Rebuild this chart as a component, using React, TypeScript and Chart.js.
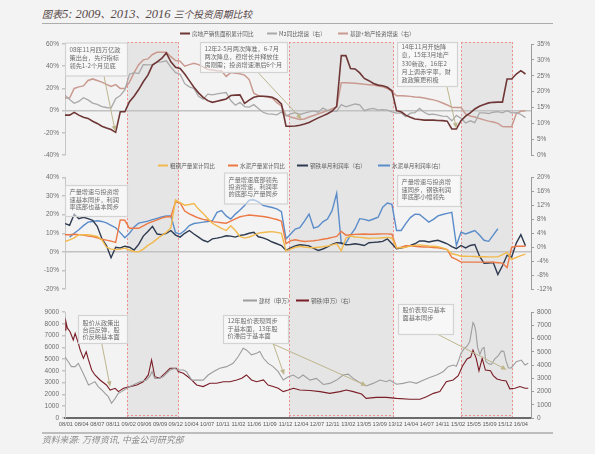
import { useEffect, useRef } from "react";
import { Chart, registerables } from "chart.js";

Chart.register(...registerables);

// Monthly series: index 0 = 2008-01 ... index 100 = 2016-05
const salesAreaYoY = [
  -4, -4, -1.5, -4, -6, -7, -9.5, -11.5, -14, -15.5, -17, -19.5,
  -1, -1, 8, 13, 19, 26, 32, 41, 44, 47, 52, 44,
  39, 38, 33, 27, 21, 16, 12, 9, 7.5, 8.5, 9.5, 10.5,
  13.6, 14, 14.2, 6.5, 9.5, 12, 13, 13, 12.8, 12, 10, 6,
  -14, -14, -13.8, -13.2, -12, -10.6, -8.5, -6.5, -4.7, -2.8, -0.5, 4,
  49.5, 49.5, 38, 37.5, 34, 29, 27, 24.5, 23, 22.5, 21, 18,
  0, -1, -4, -6, -7.5, -8, -8.5, -8.5, -8.5, -8.8, -9, -9.5,
  -16.5, -16.5, -9, -5, -2, 1.5, 4, 5.5, 7, 7.5, 7.7, 7.7,
  28.5, 28.5, 33, 36, 33,
];

const m2YoY = [
  18.9, 17.5, 16.3, 16.9, 18.1, 17.4, 16.4, 16.0, 15.3, 15.0, 14.8, 17.8,
  18.8, 20.5, 25.5, 26.0, 25.7, 28.5, 28.4, 28.5, 29.3, 29.4, 29.7, 27.7,
  26.0, 25.5, 22.5, 21.5, 21.0, 18.5, 17.6, 19.2, 19.0, 19.3, 19.5, 19.7,
  17.2, 15.7, 16.6, 15.3, 15.1, 15.9, 14.7, 13.5, 13.0, 12.9, 12.7, 13.6,
  12.4, 13.0, 13.4, 12.8, 13.2, 13.6, 13.9, 13.5, 14.8, 14.1, 13.9, 13.8,
  15.9, 15.2, 15.7, 16.1, 15.8, 14.0, 14.5, 14.7, 14.2, 14.3, 14.2, 13.6,
  13.2, 13.3, 12.1, 13.2, 13.4, 14.7, 13.5, 12.8, 12.9, 12.6, 12.3, 12.2,
  10.8, 12.5, 11.6, 10.1, 10.8, 10.2, 13.3, 13.3, 13.1, 13.5, 13.7, 13.3,
  14.0, 13.3, 13.4, 12.8, 11.8,
];

const infraPropertyFaiYoY = [
  18, 18, 21, 21.5, 21.8, 23.5, 24, 23.5, 23, 22.3, 21.6, 22.2,
  21, 21, 23, 26, 28.5, 30, 30.3, 31.7, 32.4, 32.4, 32.4, 31,
  29.8, 29.6, 28, 28.5, 28.9, 28.5, 27.8, 27, 26.8, 26.6, 26.5, 24.8,
  26, 25.8, 25.6, 25.2, 23.8, 19.5, 18.7, 18.5, 18.3, 18, 16.5, 15.5,
  12.5, 12, 11.6, 11.2, 11.4, 12, 12.5, 13, 13.5, 14, 14.6, 15.1,
  22.8, 22.8, 22.7, 22.6, 22.5, 22.3, 22.2, 22.1, 21.8, 21.5, 21, 20,
  18.7, 18.7, 18.6, 18.5, 18.3, 18.2, 18, 17.7, 17.4, 17, 16.4, 15.8,
  15.1, 15, 15, 13, 12.3, 12, 11.5, 11.1, 10.7, 10.4, 10, 9,
  8.9, 8.9, 13, 13.8, 14,
];

const crudeSteelOutputYoY = [
  5.6, 6.5, 7.5, 9.2, 9.2, 9.2, 8.8, 8.3, 6.5, 2.5, 1.5, 1.2,
  1.5, 2, 1, 0.2, 0, 1.5, 3.5, 5, 7, 8.8, 10.5, 13,
  28, 26.5, 25.1, 25.5, 26, 23, 20.7, 18, 15.4, 14, 12.7, 11.5,
  14, 11.5, 8.3, 7.4, 8, 9, 10.1, 10.4, 10.7, 10.9, 10.5, 10,
  0.5, 1.5, 2.5, 3, 2.6, 2.3, 2.2, 2.5, 2.8, 3.2, 3.8, 4.4,
  0.5, 7.5, 8.5, 8, 7.8, 7.6, 7.2, 7.4, 7.4, 7.6, 7.8, 7.5,
  2.2, 2.2, 2.5, 3.2, 3.5, 3.8, 3.5, 3.2, 3, 2.8, 2.2, 1.2,
  -1, -1.5, -2.3, -2.3, -2.4, -2.5, -2.6, -2.6, -2.7, -2.7, -2.7, -1.5,
  -0.3, -4.2, -3, -2, -1.2,
];

const cementOutputYoY = [
  9.2, 9.2, 9.5, 9.3, 9, 8.5, 8.3, 7.5, 6.8, 6.3, 5.8, 5.1,
  17.2, 17, 12.7, 12.7, 12.7, 14, 15.3, 16.3, 17.2, 18.2, 18.9, 18.9,
  26.9, 26.3, 22, 20.5, 19.3, 18.2, 17.5, 17, 16.3, 16, 15.7, 15.4,
  16.5, 17.8, 18.9, 19.4, 19.8, 19.6, 19.3, 19, 18.6, 18, 17.4, 16.5,
  4.4, 6, 6.5, 6, 5.6, 5.8, 6, 6.3, 6.8, 7.2, 7.8, 8.3,
  11, 9, 9.2, 9.4, 9.5, 9.6, 9.5, 9.5, 9.6, 9.7, 9.7, 9.5,
  2.1, 2.5, 3.3, 3.3, 3, 2.8, 2.6, 2.6, 2.4, 2.2, 1.8, 1.2,
  -3, -4, -5.5, -5.5, -5.5, -5.5, -5.5, -5.5, -5.5, -5.6, -5.8, -6,
  -8.5, 2.5, 3, 3, 3,
];

const steelMonthlyMargin = [
  6.8, 6.3, 9.5, 8.2, 8.6, 8.2, 7.7, 6, 2.5, 0.5, -3, 0,
  -0.2, 0.3, 0, -0.8, 0.8, 3.2, 4.5, 6, 3.8, 3.6, 4, 4.8,
  3.5, 2.9, 4, 4.8, 3.8, 2.9, 2, 1.5, 2.4, 2.6, 2.9, 3.3,
  3.2, 2.9, 3.4, 3.6, 4, 4.3, 3, 2.7, 2.2, 1.5, 1, 0.5,
  -0.9, -0.2, 0.4, 0.7, 0.6, 0.4, -0.3, -0.9, -0.5, 0.1, 0.8, 1.3,
  1.2, 0.7, 0.8, 1, 0.8, 0.5, 1.3, 1.4, 1.5, 1.7, 2.4, 1,
  -0.4, -0.2, 0.1, 0.5, 1, 1.8, 1.8, 1.5, 1.8, 2, 1.5, 1,
  0.2, -0.4, 0.5, -0.2, 0.5, 0.8, -2.5, -4.6, -4.5, -4.4, -7.8, -5.3,
  -2.3, -2.8, 1.2, 3.6, 0.4,
];

const cementMonthlyMargin = [
  null, 2.9, 4, 5, 6.2, 7.2, 7.4, 7.6, 7.4, 7, 6.3, 5.6,
  4.2, 2.7, 4, 5.8, 6.9, 7.2, 7.5, 7.9, 8.3, 8.7, 9, 9,
  4.2, 3.8, 4.8, 6.2, 6.8, 7, 7.2, 7.4, 7.6, 10, 10.5, 9,
  8.1, 9.5, 10.7, 12, 13.5, 13.6, 13, 12, 11.7, 11.4, 11, 10.2,
  2.4, 3.8, 5.2, 5.6, 7.5, 9.5, 5.5, 5.9, 7.3, 8.1, 10.5, 15.5,
  1, 1.2, 3.5, 5.3, 8.2, 8, 7.6, 8.1, 8.6, 11.5, 12.7, 12.3,
  4.8, 4.8, 6.8, 8.5, 9.5, 9.4, 8.3, 7.2, 8, 9, 9.4, 9.7,
  10, 0.5, 4.3, 3.8, 4.3, 4.8, 3.5, 2, 1.7, 3.5, 5.3,
];

// Shenwan sector indices: [month position, index level]
const buildingMaterialsIndex = [
  [0, 5200], [0.7, 4780], [1.4, 4360], [2.2, 4360], [2.9, 4640], [3.6, 4075], [4.3, 3500],
  [5.1, 2800], [5.8, 2940], [6.5, 3080], [7.2, 2660], [8, 2380], [8.7, 2100], [9.4, 1810],
  [10.1, 1250], [10.9, 1670], [11.6, 2100], [12.3, 2240], [13.4, 2520], [14.8, 2800],
  [16.3, 3080], [17.7, 3220], [18.5, 3600], [18.9, 3950], [19.5, 3350], [20.3, 3360],
  [21.3, 3500], [22.8, 4075], [23.8, 4200], [24.6, 4075], [25.7, 4075], [26.4, 3930],
  [27.5, 3220], [28.6, 3220], [30, 3220], [31.1, 3650], [32.2, 3930], [33.6, 4220],
  [35.1, 4360], [36.5, 4640], [37.6, 5200], [38.7, 5920], [39.4, 5780], [40.5, 5360],
  [41.6, 5500], [42.3, 5640], [43.1, 5070], [44.1, 4640], [45.2, 4360], [46.3, 3930],
  [47.4, 3220], [48.5, 3500], [49.6, 3650], [50.7, 3360], [51.7, 3650], [53.2, 3220],
  [54.6, 3360], [56.1, 2850], [57.5, 2940], [59, 3220], [60.4, 3650], [61.5, 3720],
  [62.6, 3360], [63.7, 3080], [65.4, 2720], [66.9, 2940], [68.4, 3220], [69.8, 3080],
  [70.5, 3220], [72, 2870], [73.4, 2940], [74.9, 3080], [76.3, 2940], [77.9, 3220],
  [79.2, 3430], [80.7, 3650], [82.1, 3930], [83.2, 4360], [84.3, 4500], [85, 4400],
  [85.5, 4900], [86, 5500], [86.6, 5850], [87.3, 6100], [87.9, 6500], [88.3, 7400],
  [88.6, 8100], [88.9, 7900], [89.2, 7400], [89.6, 6000], [90.1, 5400], [90.6, 5900],
  [91, 6000], [91.4, 4800], [92, 4600], [92.6, 4550], [93.3, 5000], [94.1, 5300],
  [94.8, 5700], [95.3, 5650], [95.8, 4800], [96.3, 4250], [96.9, 4250], [98, 4780],
  [99.1, 4920], [99.9, 4500], [100.6, 4640],
];

const steelIndex = [
  [0, 6640], [0.2, 7270], [0.5, 6800], [1.1, 6510], [1.8, 5890], [2.2, 6390], [2.9, 5640],
  [3.3, 5130], [4, 4500], [4.6, 5000], [5.1, 4380], [5.8, 3620], [6.5, 3250], [7.6, 2870],
  [9, 2490], [9.8, 2110], [10.9, 2240], [11.6, 1990], [12.7, 2240], [14.1, 2370],
  [15.6, 2490], [17, 2740], [18.1, 3250], [18.8, 4380], [19.5, 3120], [20.6, 3000],
  [21.7, 3370], [22.8, 3750], [24.2, 3750], [24.6, 3500], [25.7, 3370], [27.1, 3000],
  [28.6, 2490], [30, 2370], [31.5, 2620], [32.9, 2620], [34.4, 2740], [35.8, 2740],
  [37.3, 2870], [38.4, 3000], [39.4, 3250], [40.5, 2870], [41.6, 2740], [43.1, 2870],
  [44.1, 2490], [45.2, 2370], [46.3, 2240], [47.4, 1990], [48.5, 2110], [49.6, 2240],
  [51, 2110], [53.2, 2070], [55.4, 1990], [57.5, 1860], [59.7, 1990], [61.1, 2110],
  [62.6, 1990], [64.4, 1810], [65.4, 1480], [67.6, 1560], [69.8, 1560], [72, 1480],
  [74.9, 1410], [77.1, 1410], [78.5, 1610], [80, 1860], [81.4, 1990], [82.8, 2740],
  [84.3, 2870], [85.4, 3200], [86.3, 3900], [87.3, 4450], [88.1, 4600], [88.6, 5130],
  [89.3, 4500], [89.9, 3560], [90.6, 4500], [91.3, 3620], [92.4, 3560], [93, 3200],
  [93.8, 2950], [94.8, 2850], [95.8, 2800], [96.6, 2200], [97.7, 2240], [98.8, 2370],
  [99.9, 2240], [100.6, 2240],
];

// Policy easing cycles, in month positions
const easingCycles = [
  [13.4, 24.8],
  [48.6, 71.4],
  [86.0, 97.3],
];

const dateTickLabels = [
  "08/01", "08/04", "08/07", "08/11", "09/02", "09/06", "09/09", "09/12", "10/04", "10/07",
  "10/11", "11/02", "11/06", "11/09", "11/12", "12/04", "12/07", "12/11", "13/02", "13/05",
  "13/09", "13/12", "14/04", "14/07", "14/11", "15/02", "15/05", "15/09", "15/12", "16/04",
];

const X_MAX = 101.2;
const TICK_FIRST = 0.2;
const TICK_LAST = 99;

const PAGE_BG = "#f3f3f3";
const SHADE = "#e5e5e5";
const DASH_RED = "#ef9090";
const ZERO_LINE = "#c2c2c2";
const TICK_COLOR = "#6e6e6e";
const ARROW = "#bdb58c";
const CJK = '"Noto Sans CJK SC", "Noto Sans CJK JP", sans-serif';
const NUM_FAMILY = "'Liberation Sans', Arial, sans-serif";
const Y_TICK_FONT = { family: NUM_FAMILY, size: 6.5 };
const X_TICK_FONT = { family: NUM_FAMILY, size: 5.7 };

const monthly = (arr: (number | null)[]) => arr.map((y, x) => ({ x, y }));
const pairs = (arr: number[][]) => arr.map(([x, y]) => ({ x, y }));
const pct = (v: any) => `${v}%`;
const plain = (v: any) => `${v}`;

function leftAxis(min: number, max: number, step: number, cb: any, zero: boolean) {
  return {
    type: "linear",
    position: "left",
    min,
    max,
    afterFit: (s: any) => {
      s.width = 65;
    },
    ticks: { stepSize: step, callback: cb, font: Y_TICK_FONT, color: TICK_COLOR, padding: 3 },
    grid: {
      drawOnChartArea: zero,
      color: (c: any) => (c.tick && c.tick.value === 0 ? ZERO_LINE : "rgba(0,0,0,0)"),
      lineWidth: 1.5,
      drawTicks: true,
      tickLength: 3,
      tickColor: "#c4c4c4",
    },
    border: { display: true, color: "#c6c6c6", width: 1 },
  };
}

function rightAxis(min: number, max: number, step: number, cb: any) {
  return {
    type: "linear",
    position: "right",
    min,
    max,
    afterFit: (s: any) => {
      s.width = 64;
    },
    ticks: { stepSize: step, callback: cb, font: Y_TICK_FONT, color: TICK_COLOR, padding: 3 },
    grid: { drawOnChartArea: false, drawTicks: true, tickLength: 3, tickColor: "#9c9c9c" },
    border: { display: true, color: "#9c9c9c", width: 1 },
  };
}

const hiddenX = { type: "linear", min: 0, max: X_MAX, display: false };

const dateAxis = {
  type: "linear",
  min: 0,
  max: X_MAX,
  afterFit: (s: any) => {
    s.height = 16;
  },
  afterBuildTicks: (s: any) => {
    const step = (TICK_LAST - TICK_FIRST) / (dateTickLabels.length - 1);
    s.ticks = dateTickLabels.map((_, i) => ({ value: TICK_FIRST + i * step }));
  },
  ticks: {
    autoSkip: false,
    maxRotation: 0,
    minRotation: 0,
    padding: 3,
    font: X_TICK_FONT,
    color: "#5a5a5a",
    callback: (_v: any, i: number) => dateTickLabels[i] ?? "",
  },
  grid: { display: false, drawTicks: false },
  border: { display: true, color: "#6a6a6a", width: 2 },
};

type Note = { x: number; y: number; w: number; h: number; first: number; lead: number; lines: string[] };
type Pointer = { from: number[]; at: number[]; axis: string };
type Slot = { x: number; y: number; w: number };
type Decor = {
  pageTop: number;
  shadeTop: number | null;
  shadeToArea: boolean;
  legend: Slot[];
  notes: Note[];
  pointers: Pointer[];
};

function makeDecor(cfg: Decor) {
  return {
    id: "decor",
    beforeDraw(chart: any) {
      const { ctx, chartArea, height } = chart;
      const xs = chart.scales.x;
      const top = cfg.shadeTop == null ? 0 : chartArea.top + cfg.shadeTop;
      const bottom = cfg.shadeToArea ? chartArea.bottom : height;
      ctx.save();
      easingCycles.forEach(([a, b]) => {
        const x0 = Math.round(xs.getPixelForValue(a));
        const x1 = Math.round(xs.getPixelForValue(b));
        ctx.fillStyle = SHADE;
        ctx.fillRect(x0, top, x1 - x0, bottom - top);
        ctx.strokeStyle = DASH_RED;
        ctx.lineWidth = 1;
        ctx.setLineDash([2, 2]);
        ctx.beginPath();
        ctx.moveTo(x0 + 0.5, top);
        ctx.lineTo(x0 + 0.5, bottom);
        ctx.moveTo(x1 - 0.5, top);
        ctx.lineTo(x1 - 0.5, bottom);
        if (cfg.shadeTop != null) {
          ctx.moveTo(x0, top + 0.5);
          ctx.lineTo(x1, top + 0.5);
        }
        if (cfg.shadeToArea) {
          ctx.moveTo(x0, bottom - 2.5);
          ctx.lineTo(x1, bottom - 2.5);
        }
        ctx.stroke();
      });
      ctx.restore();
    },
    afterDraw(chart: any) {
      const { ctx } = chart;
      const off = cfg.pageTop;
      ctx.save();
      ctx.setLineDash([]);

      // legend, one slot per dataset
      ctx.font = `5.6px ${CJK}`;
      ctx.textBaseline = "middle";
      ctx.textAlign = "left";
      cfg.legend.forEach((slot, i) => {
        const ds = chart.data.datasets[i];
        const y = slot.y - off;
        ctx.strokeStyle = ds.borderColor;
        ctx.lineWidth = 2;
        ctx.beginPath();
        ctx.moveTo(slot.x, y);
        ctx.lineTo(slot.x + slot.w, y);
        ctx.stroke();
        ctx.fillStyle = "#5e5e5e";
        ctx.fillText(ds.label, slot.x + slot.w + 2, y);
      });

      // pointers from the notes to the series
      cfg.pointers.forEach((p) => {
        const x0 = p.from[0];
        const y0 = p.from[1] - off;
        const x1 = chart.scales.x.getPixelForValue(p.at[0]);
        const y1 = chart.scales[p.axis].getPixelForValue(p.at[1]);
        const ang = Math.atan2(y1 - y0, x1 - x0);
        ctx.strokeStyle = ARROW;
        ctx.fillStyle = ARROW;
        ctx.lineWidth = 1;
        ctx.beginPath();
        ctx.moveTo(x0, y0);
        ctx.lineTo(x1 - 4 * Math.cos(ang), y1 - 4 * Math.sin(ang));
        ctx.stroke();
        ctx.beginPath();
        ctx.moveTo(x1, y1);
        ctx.lineTo(x1 - 5.5 * Math.cos(ang) + 2.4 * Math.sin(ang), y1 - 5.5 * Math.sin(ang) - 2.4 * Math.cos(ang));
        ctx.lineTo(x1 - 5.5 * Math.cos(ang) - 2.4 * Math.sin(ang), y1 - 5.5 * Math.sin(ang) + 2.4 * Math.cos(ang));
        ctx.closePath();
        ctx.fill();
      });

      // note boxes
      cfg.notes.forEach((n) => {
        const y = n.y - off;
        ctx.fillStyle = "rgba(250,250,250,0.55)";
        ctx.fillRect(n.x, y, n.w, n.h);
        ctx.strokeStyle = "#d3d3d3";
        ctx.lineWidth = 1.2;
        ctx.strokeRect(n.x + 0.5, y + 0.5, n.w, n.h);
        ctx.fillStyle = "#6c6c6c";
        ctx.font = `6.2px ${CJK}`;
        ctx.textBaseline = "middle";
        n.lines.forEach((line, i) => {
          ctx.fillText(line, n.x + 4.5, y + n.first + i * n.lead);
        });
      });
      ctx.restore();
    },
  };
}

function baseOptions(scales: any, padding: any) {
  return {
    responsive: false,
    animation: false,
    devicePixelRatio: 1,
    events: [],
    layout: { padding },
    elements: { point: { radius: 0 }, line: { tension: 0, fill: false } },
    plugins: { legend: { display: false }, tooltip: { enabled: false }, title: { display: false } },
    scales,
  };
}

const line = (label: string, data: any, yAxisID: string, color: string, width: number) => ({
  label,
  data,
  yAxisID,
  borderColor: color,
  backgroundColor: color,
  borderWidth: width,
  pointRadius: 0,
});

function propertyConfig(): any {
  return {
    type: "line",
    data: {
      datasets: [
        line("房地产销售面积累计同比", monthly(salesAreaYoY), "yL", "#6f3636", 1.6),
        line("M2同比增速（右）", monthly(m2YoY), "yR", "#a9a9a9", 1.3),
        line("基建+地产投资增速（右）", monthly(infraPropertyFaiYoY), "yR", "#c99a90", 1.5),
      ],
    },
    options: baseOptions(
      { x: hiddenX, yL: leftAxis(-40, 60, 20, pct, true), yR: rightAxis(0, 35, 5, pct) },
      { top: 20, bottom: 5, left: 0, right: 0 }
    ),
    plugins: [
      makeDecor({
        pageTop: 24,
        shadeTop: -2,
        shadeToArea: false,
        legend: [
          { x: 180, y: 33.5, w: 10 },
          { x: 267, y: 33.5, w: 10 },
          { x: 338, y: 33.5, w: 10 },
        ],
        notes: [
          { x: 65, y: 42.5, w: 62, h: 33, first: 7.5, lead: 7.9, lines: ["08年11月四万亿政", "策出台，先行指标", "领先1-2个月见底"] },
          { x: 200, y: 42, w: 87, h: 30, first: 7, lead: 8, lines: ["12年2-5月两次降准，6-7月", "两次降息，稳增长并释放住", "房刚需；投资增速滞后6个月"] },
          { x: 397, y: 42, w: 60, h: 44, first: 4.8, lead: 8.3, lines: ["14年11月开始降", "息，15年3月地产", "330新政，16年2", "月上调赤字率，财", "政政策更积极"] },
        ],
        pointers: [
          { from: [104, 76], at: [10.9, -18.6], axis: "yL" },
          { from: [258, 72.5], at: [51.4, 11.3], axis: "yR" },
          { from: [447, 87], at: [85, -16], axis: "yL" },
        ],
      }),
    ],
  };
}

function outputConfig(): any {
  return {
    type: "line",
    data: {
      datasets: [
        line("粗钢产量累计同比", monthly(crudeSteelOutputYoY), "yL", "#f2b94c", 1.4),
        line("水泥产量累计同比", monthly(cementOutputYoY), "yL", "#ec7945", 1.4),
        line("钢铁单月利润率（右）", monthly(steelMonthlyMargin), "yR", "#2e3a50", 1.4),
        line("水泥单月利润率(右)", monthly(cementMonthlyMargin), "yR", "#5b8cca", 1.4),
      ],
    },
    options: baseOptions(
      { x: hiddenX, yL: leftAxis(-20, 40, 10, pct, true), yR: rightAxis(-12, 20, 4, pct) },
      { top: 15.5, bottom: 5.5, left: 0, right: 0 }
    ),
    plugins: [
      makeDecor({
        pageTop: 162,
        shadeTop: null,
        shadeToArea: false,
        legend: [
          { x: 158, y: 165.5, w: 10 },
          { x: 228, y: 165.5, w: 10 },
          { x: 297, y: 165.5, w: 11 },
          { x: 378, y: 165.5, w: 12 },
        ],
        notes: [
          { x: 65, y: 185, w: 62, h: 31, first: 6.7, lead: 7.5, lines: ["产量增速与投资增", "速基本同步，利润", "率底部也基本同步"] },
          { x: 224, y: 172.5, w: 63, h: 31, first: 6.8, lead: 7.4, lines: ["产量增速底部领先", "投资增速，利润率", "的底部与产量同步"] },
          { x: 397, y: 175, w: 63, h: 31, first: 6.7, lead: 7.5, lines: ["产量增速与投资增", "速同步，钢铁利润", "率底部小幅领先"] },
        ],
        pointers: [],
      }),
    ],
  };
}

function equityConfig(): any {
  return {
    type: "line",
    data: {
      datasets: [
        line("建材（申万）", pairs(buildingMaterialsIndex), "yL", "#9d9d9d", 1.1),
        line("钢铁(申万)（右）", pairs(steelIndex), "yR", "#7a1d27", 1.1),
      ],
    },
    options: baseOptions(
      { x: dateAxis, yL: leftAxis(0, 9000, 1000, plain, false), yR: rightAxis(0, 8000, 1000, plain) },
      { top: 16, bottom: 0, left: 0, right: 0 }
    ),
    plugins: [
      makeDecor({
        pageTop: 296,
        shadeTop: null,
        shadeToArea: true,
        legend: [
          { x: 243, y: 300.5, w: 14 },
          { x: 296, y: 300.5, w: 13 },
        ],
        notes: [
          { x: 78, y: 315, w: 49, h: 28, first: 7.7, lead: 7, lines: ["股价从政策出", "台后反弹，股", "价反映基本面"] },
          { x: 223, y: 315, w: 65, h: 28, first: 5.7, lead: 7.5, lines: ["12年股价表现同步", "于基本面，13年股", "价滞后于基本面"] },
          { x: 398, y: 304, w: 55, h: 30, first: 6, lead: 7.7, lines: ["股价表现与基本", "面基本同步"] },
        ],
        pointers: [
          { from: [101.7, 343], at: [9.8, 2360], axis: "yR" },
          { from: [273, 343], at: [47.6, 3650], axis: "yL" },
          { from: [272, 343.5], at: [65.5, 2740], axis: "yL" },
          { from: [438, 334.5], at: [95.9, 4100], axis: "yL" },
        ],
      }),
    ],
  };
}

export default function App() {
  const topRef = useRef<HTMLCanvasElement>(null);
  const midRef = useRef<HTMLCanvasElement>(null);
  const botRef = useRef<HTMLCanvasElement>(null);

  useEffect(() => {
    const charts = [
      new Chart(topRef.current as HTMLCanvasElement, propertyConfig()),
      new Chart(midRef.current as HTMLCanvasElement, outputConfig()),
      new Chart(botRef.current as HTMLCanvasElement, equityConfig()),
    ];
    return () => charts.forEach((c) => c.destroy());
  }, []);

  const canvasStyle = (top: number, h: number): any => ({
    position: "absolute",
    left: 0,
    top,
    width: 595,
    height: h,
    display: "block",
  });

  const titleBase: any = {
    fontStyle: "italic",
    fontFamily: `'Liberation Serif', ${CJK}`,
  };

  return (
    <div
      style={{
        position: "fixed",
        left: 0,
        top: 0,
        width: 595,
        height: 454,
        background: PAGE_BG,
        overflow: "hidden",
      }}
    >
      <div
        style={{
          ...titleBase,
          position: "absolute",
          left: 42,
          top: 6,
          lineHeight: "16px",
          color: "#574848",
          whiteSpace: "nowrap",
          fontSize: 12.5,
        }}
      >
        <span style={{ fontSize: 10 }}>图表</span>5: 2009<span style={{ fontSize: 10 }}>、</span>2013
        <span style={{ fontSize: 10 }}>、</span>2016 <span style={{ fontSize: 9.8 }}>三个投资周期比较</span>
      </div>
      <div style={{ position: "absolute", left: 42, top: 22.5, width: 511, height: 1.5, background: "#acacac" }} />
      <canvas ref={topRef} width={595} height={138} style={canvasStyle(24, 138)} />
      <canvas ref={midRef} width={595} height={134} style={canvasStyle(162, 134)} />
      <canvas ref={botRef} width={595} height={138} style={canvasStyle(296, 138)} />
      <div style={{ position: "absolute", left: 42, top: 432, width: 511, height: 2, background: "#bdbdbd" }} />
      <div
        style={{
          ...titleBase,
          position: "absolute",
          left: 42,
          top: 434.5,
          fontSize: 8.8,
          lineHeight: "11px",
          color: "#8a8a8a",
          whiteSpace: "nowrap",
        }}
      >
        资料来源: 万得资讯, 中金公司研究部
      </div>
    </div>
  );
}
